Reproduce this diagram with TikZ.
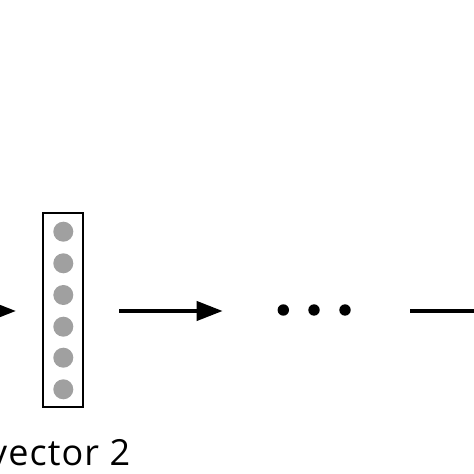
\documentclass[tikz,border=0pt]{standalone}
\usepackage{fontspec}
\setmainfont{Open Sans}
\newfontfamily\labfont[LetterSpace=3]{Open Sans}
\usetikzlibrary{arrows.meta}
\definecolor{neuron}{HTML}{A0A0A0}
\begin{document}
\begin{tikzpicture}[x=1pt,y=1pt,
  flow/.style={line width=4pt,-{Triangle[length=26pt,width=19pt]}},
  plainflow/.style={line width=4pt},
  neuronball/.style={circle,fill=neuron,minimum size=20pt,inner sep=0pt},
  dotball/.style={circle,fill=black,minimum size=11.4pt,inner sep=0pt},
  vecbox/.style={draw,line width=1.8pt,minimum width=40pt,minimum height=194pt,inner sep=0pt}]
\useasboundingbox (0,0) rectangle (474,474);
\begin{scope}
\clip (0,0) rectangle (474,474);
% vector box
\node[vecbox] (vec) at (63.3,163.7) {};
\foreach \i/\yy in {1/242.3,2/210.7,3/179,4/147.3,5/116.3,6/84.7}
  \node[neuronball] (n\i) at (63.3,\yy) {};
% left incoming arrow
\coordinate (lstart) at (-10,163);
\coordinate (ltip) at (16,163);
\draw[flow] (lstart) -- (ltip);
% middle arrow
\coordinate (mstart) at (119,163);
\coordinate (mtip) at (222.7,163);
\draw[flow] (mstart) -- (mtip);
% dots
\node[dotball] (d1) at (283.3,164) {};
\node[dotball] (d2) at (314,164) {};
\node[dotball] (d3) at (345,164) {};
% right outgoing line
\coordinate (rstart) at (410,162.5);
\coordinate (rend) at (490,162.5);
\draw[plainflow] (rstart) -- (rend);
% label
\node[anchor=base west,inner sep=0pt,font=\labfont\fontsize{36}{43}\selectfont] (lab) at (-11,9) {vector 2};
\end{scope}
\end{tikzpicture}
\end{document}
